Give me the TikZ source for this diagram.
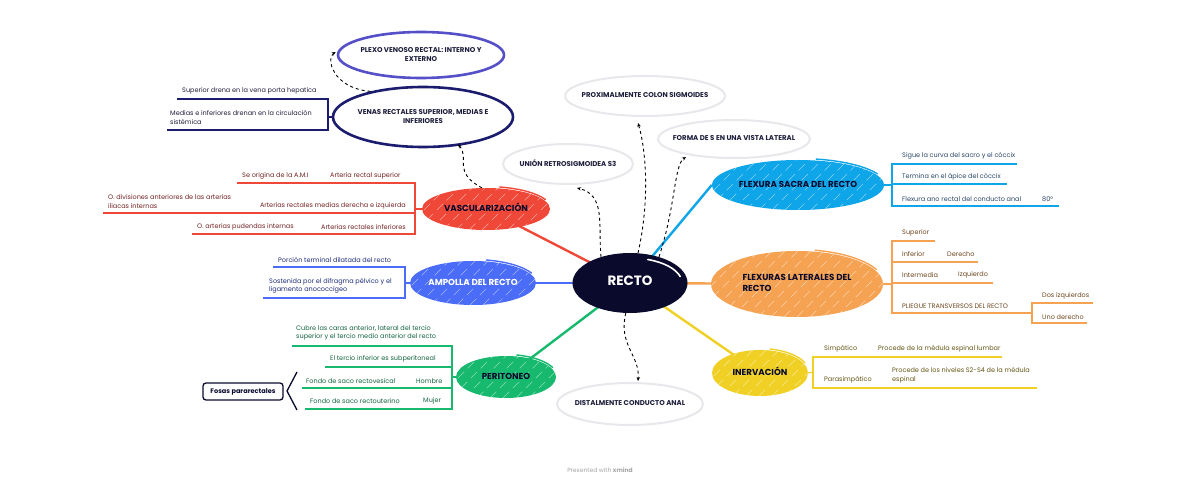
\documentclass[tikz,border=0pt]{standalone}
\usepackage{fontspec}
\setmainfont{Poppins}
\usetikzlibrary{arrows.meta,shapes.geometric,calc}
\definecolor{navy}{RGB}{10,10,45}
\definecolor{cred}{RGB}{240,72,56}
\definecolor{cblue}{RGB}{74,108,247}
\definecolor{cgreen}{RGB}{22,185,110}
\definecolor{csky}{RGB}{14,165,233}
\definecolor{corange}{RGB}{245,162,82}
\definecolor{cyellow}{RGB}{240,208,36}
\definecolor{cvenas}{RGB}{28,28,110}
\definecolor{cplexo}{RGB}{85,80,200}
\definecolor{cgrey}{RGB}{232,232,236}
\definecolor{tred}{RGB}{115,35,35}
\definecolor{tblue}{RGB}{30,45,120}
\definecolor{tgreen}{RGB}{20,100,65}
\definecolor{tsky}{RGB}{40,70,100}
\definecolor{torange}{RGB}{110,70,30}
\definecolor{tyellow}{RGB}{100,85,20}
\definecolor{tnavy}{RGB}{30,30,60}
\newcommand{\zwc}[1]{\makebox[0pt][c]{\begin{tabular}{@{}c@{}}#1\end{tabular}}}
\newcommand{\zwl}[1]{\makebox[0pt][c]{\begin{tabular}{@{}l@{}}#1\end{tabular}}}
\pgfdeclarelayer{bg}
\pgfsetlayers{bg,main}
\tikzset{
  main/.style={ellipse, inner sep=0pt, font=\fontsize{8.7}{10.5}\selectfont\bfseries},
  hatch/.style={path picture={\foreach \i in {0,13,...,260} \draw[white, opacity=0.5, line width=0.6pt, dash pattern=on 9pt off 5pt] ($(path picture bounding box.south west)+(\i-70,0)$) -- ++(70,-70);}},
  floatt/.style={ellipse, inner sep=0pt, draw=cgrey, line width=2pt, fill=white, text=tnavy, font=\fontsize{7}{8.5}\selectfont\bfseries},
  outl/.style={main, line width=2.6pt, fill=white, text=tnavy, font=\fontsize{7}{8.8}\selectfont\bfseries},
  ctext/.style={inner sep=0pt, anchor=west, font=\fontsize{6.5}{8.4}\selectfont, align=left},
  tline/.style={line width=1.1pt},
  bline/.style={line width=2.4pt},
  darrow/.style={dashed, line width=0.9pt, -{Stealth[length=4pt,width=3.5pt]}},
}
\begin{document}
\begin{tikzpicture}[x=1pt,y=-1pt]
\useasboundingbox (0,0) rectangle (1200,486);
\begin{pgfonlayer}{bg}
\fill[white] (0,0) rectangle (1200,486);
\end{pgfonlayer}

% central and main topics
\node[main, fill=navy, text=white, minimum width=115, minimum height=60, font=\fontsize{13.5}{15}\selectfont\bfseries] (recto) at (630,283) {\zwc{RECTO}};
\node[main, hatch, fill=cred, text=navy, minimum width=128, minimum height=42] (vasc) at (486,209) {\zwc{VASCULARIZACIÓN}};
\node[main, hatch, fill=cblue, text=white, minimum width=126, minimum height=44] (amp) at (473,283) {\zwc{AMPOLLA DEL RECTO}};
\node[main, hatch, fill=cgreen, text=navy, minimum width=100, minimum height=42] (perit) at (506,377) {\zwc{PERITONEO}};
\node[main, hatch, fill=csky, text=navy, minimum width=172, minimum height=50] (sacra) at (798,185) {\zwc{FLEXURA SACRA DEL RECTO}};
\node[main, hatch, fill=corange, text=navy, minimum width=172, minimum height=66] (lat) at (797,284) {\zwl{FLEXURAS LATERALES DEL\\RECTO}};
\node[main, hatch, fill=cyellow, text=navy, minimum width=96, minimum height=46] (inerv) at (760,373) {\zwc{INERVACIÓN}};

% sketch tails on the main topics
\draw[white, line width=1.6pt, line cap=round] (630,283) ++({52*cos(290)},{25*sin(290)}) arc[start angle=290, end angle=345, x radius=52, y radius=25];
\foreach \n/\c/\a/\b in {vasc/cred/64/21, amp/cblue/63/22, perit/cgreen/50/21, sacra/csky/86/25, lat/corange/86/33, inerv/cyellow/48/23}{
  \draw[\c, line width=1.4pt, line cap=round] (\n.center) ++({(\a+1.5)*cos(282)},{(\b+1.5)*sin(282)}) arc[start angle=282, end angle=335, x radius=\a+1.5, y radius=\b+1.5];
}

% venas / plexo
\node[outl, draw=cvenas, minimum width=180, minimum height=60] (venas) at (423,117) {\zwc{VENAS RECTALES SUPERIOR, MEDIAS E\\INFERIORES}};
\node[outl, draw=cplexo, minimum width=166, minimum height=46] (plexo) at (421,55) {\zwc{PLEXO VENOSO RECTAL: INTERNO Y\\EXTERNO}};

% floating topics
\node[floatt, minimum width=160, minimum height=40] (prox) at (645,96) {\zwc{PROXIMALMENTE COLON SIGMOIDES}};
\node[floatt, minimum width=152, minimum height=38] (forma) at (734,139) {\zwc{FORMA DE S EN UNA VISTA LATERAL}};
\node[floatt, minimum width=130, minimum height=40] (union) at (568,164) {\zwc{UNIÓN RETROSIGMOIDEA S3}};
\node[floatt, minimum width=146, minimum height=42] (distal) at (630,404) {\zwc{DISTALMENTE CONDUCTO ANAL}};

% branches from center
\begin{pgfonlayer}{bg}
\draw[bline, cred] (recto.center) -- (vasc.center);
\draw[bline, cblue] (recto.center) -- (amp.center);
\draw[bline, cgreen] (recto.center) -- (perit.center);
\draw[bline, csky] (recto.center) -- (sacra.west);
\draw[bline, corange] (recto.center) -- (lat.center);
\draw[bline, cyellow] (recto.center) -- (inerv.center);
\end{pgfonlayer}

% dashed arrows
\draw[darrow] (recto.75) .. controls (650,200) and (646,150) .. ($(prox.south)+(-7,6)$);
\draw[darrow] (recto.42) .. controls (676,205) and (674,165) .. ($(forma.west)+(29,18)$);
\draw[darrow] (recto.138) .. controls (598,225) and (606,195) .. ($(union.south)+(9,3)$);
\draw[darrow] (recto.262) .. controls (618,345) and (640,355) .. ($(distal.north)+(8,-1)$);
\draw[darrow] (vasc.101) .. controls (452,172) and (470,158) .. ($(venas.south)+(35,-4)$);
\draw[darrow] (venas.154) .. controls (332,88) and (326,58) .. ($(plexo.west)+(-1,-3)$);

% VENAS children
\node[ctext, text=tnavy] (ve1) at (182,91) {Superior drena en la vena porta hepatica};
\node[ctext, text=tnavy] (ve2) at (170,117.5) {Medias e inferiores drenan en la circulación\\sistémica};
\coordinate (vej) at (328,117);
\draw[tline, cvenas] (177,99) -- (328,99) -- (328,130) -- (167,130);
\draw[tline, cvenas] (vej) -- (venas.west);

% VASC children
\node[ctext, text=tred] (va1) at (330,176) {Arteria rectal superior};
\node[ctext, text=tred] (va1a) at (242,176) {Se origina de la A.M.I};
\node[ctext, text=tred, anchor=east] (va2) at (406,206) {Arterias rectales medias derecha e izquierda};
\node[ctext, text=tred] (va2a) at (108,201.5) {O. divisiones anteriores de las arterias\\iliacas internas};
\node[ctext, text=tred, anchor=east] (va3) at (406,227) {Arterias rectales inferiores};
\node[ctext, text=tred] (va3a) at (197,227) {O. arterias pudendas internas};
\draw[tline, cred] (237,183) -- (415,183) -- (415,234) -- (192,234);
\draw[tline, cred] (103,213) -- (415,213);
\draw[tline, cred] (415,209) -- (vasc.west);

% AMPOLLA children
\node[ctext, text=tblue] (am1) at (278,260) {Porción terminal dilatada del recto};
\node[ctext, text=tblue] (am2) at (269,286) {Sostenida por el difragma pélvico y el\\ligamento anococcígeo};
\draw[tline, cblue] (273,267) -- (405,267) -- (405,298) -- (263,298);
\draw[tline, cblue] (405,283) -- (amp.west);

% PERITONEO children
\node[ctext, text=tgreen] (pe1) at (296,333) {Cubre las caras anterior, lateral del tercio\\superior y el tercio medio anterior del recto};
\node[ctext, text=tgreen] (pe2) at (330,359) {El tercio inferior es subperitoneal};
\node[ctext, text=tgreen] (pe3) at (306,381) {Fondo de saco rectovesical};
\node[ctext, text=tgreen] (pe3a) at (416,381) {Hombre};
\node[ctext, text=tgreen] (pe4) at (310,401) {Fondo de saco rectouterino};
\node[ctext, text=tgreen] (pe4a) at (423,401) {Mujer};
\draw[tline, cgreen] (292,346) -- (452,346) -- (452,409) -- (305,409);
\draw[tline, cgreen] (325,367) -- (452,367);
\draw[tline, cgreen] (302,388) -- (452,388);
\draw[tline, cgreen] (452,377) -- (perit.west);
\node[draw=navy, line width=1.3pt, rounded corners=3pt, minimum width=80, minimum height=17, inner sep=0pt, text=navy, font=\fontsize{6.6}{7.5}\selectfont\bfseries] (fosas) at (243,391.5) {Fosas pararectales};
\coordinate (brace) at (287,391);
\draw[line width=1.3pt, navy] (297,372) -- (brace) -- (297,410);

% FLEXURA SACRA children
\node[ctext, text=tsky] (sa1) at (902,156) {Sigue la curva del sacro y el cóccix};
\node[ctext, text=tsky] (sa2) at (902,177) {Termina en el ápice del cóccix};
\node[ctext, text=tsky] (sa3) at (902,199) {Flexura ano rectal del conducto anal};
\node[ctext, text=tsky] (sa3a) at (1042,199) {80°};
\draw[tline, csky] (1017,164) -- (892,164) -- (892,206) -- (1059,206);
\draw[tline, csky] (892,184) -- (1007,184);
\draw[tline, csky] (sacra.east) -- (892,185);

% FLEXURAS LATERALES children
\node[ctext, text=torange] (la1) at (902,233) {Superior};
\node[ctext, text=torange] (la2) at (902,254) {Inferior};
\node[ctext, text=torange] (la2a) at (947,254) {Derecho};
\node[ctext, text=torange] (la3) at (902,275) {Intermedia};
\node[ctext, text=torange] (la3a) at (958,275) {Izquierdo};
\node[ctext, text=torange] (la4) at (902,306) {PLIEGUE TRANSVERSOS DEL RECTO};
\node[ctext, text=torange] (la4a) at (1042,296) {Dos izquierdos};
\node[ctext, text=torange] (la4b) at (1042,317) {Uno derecho};
\draw[tline, corange] (935,241) -- (892,241) -- (892,313) -- (1032,313);
\draw[tline, corange] (892,262) -- (978,262);
\draw[tline, corange] (892,283) -- (993,283);
\draw[tline, corange] (lat.east) -- (892,284);
\draw[tline, corange] (1093,303) -- (1032,303) -- (1032,323) -- (1087,323);

% INERVACION children
\node[ctext, text=tyellow] (in1) at (824,349) {Simpático};
\node[ctext, text=tyellow] (in1a) at (878,349) {Procede de la médula espinal lumbar};
\node[ctext, text=tyellow] (in2) at (824,380) {Parasimpático};
\node[ctext, text=tyellow] (in2a) at (892,375.5) {Procede de los niveles S2-S4 de la médula\\espinal};
\draw[tline, cyellow] (1002,357) -- (813,357) -- (813,388) -- (1037,388);
\draw[tline, cyellow] (inerv.east) -- (813,372);

% footer
\node[inner sep=0pt, text=black!35, font=\fontsize{6}{7}\selectfont] (footer) at (600,470) {Presented with \textbf{xmind}};
\end{tikzpicture}
\end{document}
